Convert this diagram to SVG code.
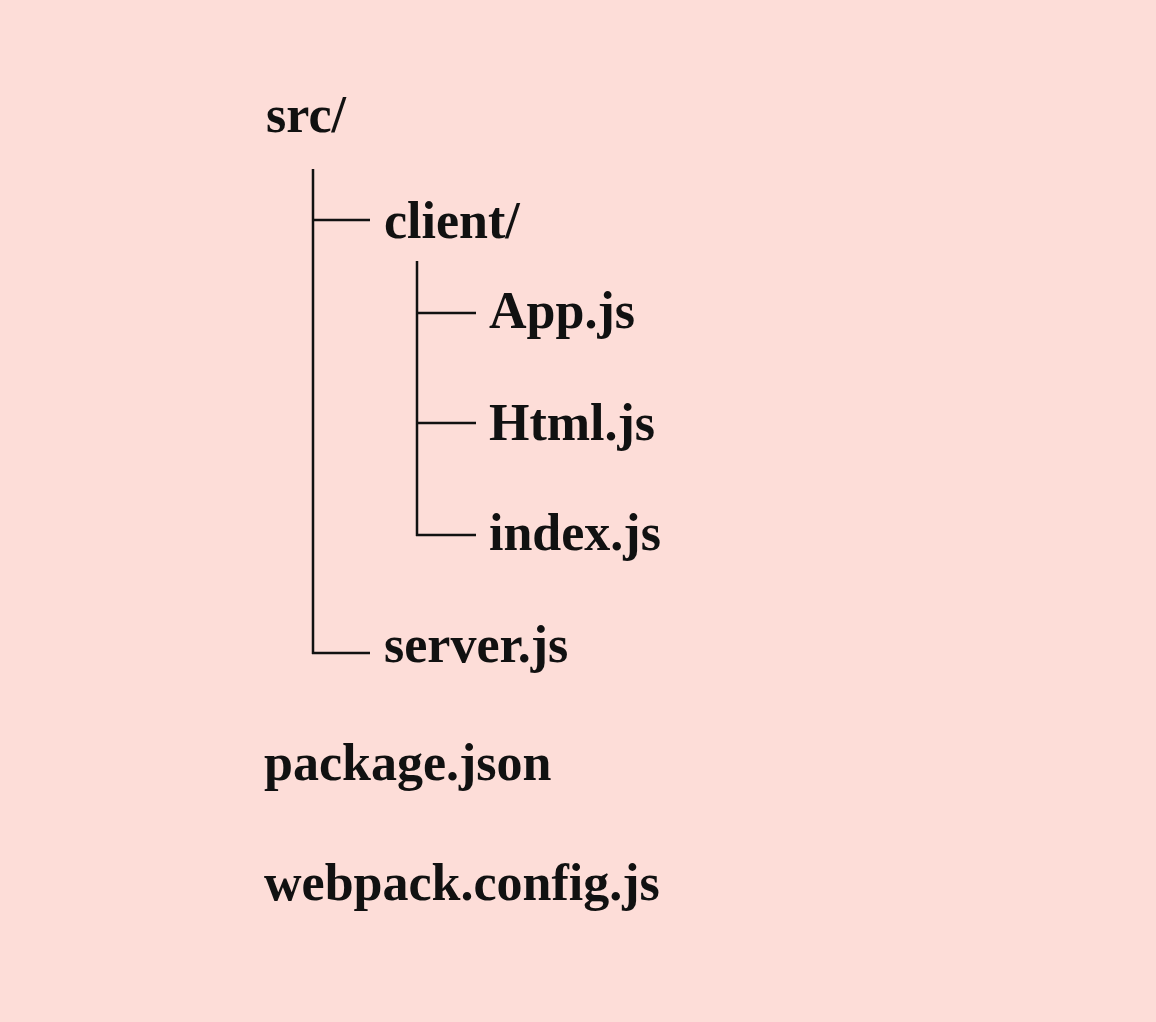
<svg xmlns="http://www.w3.org/2000/svg" width="1156" height="1022" viewBox="0 0 1156 1022">
<style>
text{font-family:"Liberation Serif",serif;font-weight:bold;font-size:52px;fill:#111}
line{stroke:#111;stroke-width:2.5}
</style>
<rect width="1156" height="1022" fill="#FDDDD8"/>
<g id="connectors">
<line x1="313" y1="169" x2="313" y2="654"/>
<line x1="312" y1="220" x2="370" y2="220"/>
<line x1="312" y1="653" x2="370" y2="653"/>
<line x1="417" y1="261" x2="417" y2="536"/>
<line x1="416" y1="313" x2="476" y2="313"/>
<line x1="416" y1="423" x2="476" y2="423"/>
<line x1="416" y1="535" x2="476" y2="535"/>
</g>
<g id="src"><text x="266" y="132">src/</text></g>
<g id="client"><text x="384" y="238">client/</text></g>
<g id="app"><text x="489" y="328">App.js</text></g>
<g id="html"><text x="489" y="440">Html.js</text></g>
<g id="index"><text x="489" y="550">index.js</text></g>
<g id="server"><text x="384" y="662">server.js</text></g>
<g id="package"><text x="264" y="780">package.json</text></g>
<g id="webpack"><text x="264" y="900">webpack.config.js</text></g>
</svg>
